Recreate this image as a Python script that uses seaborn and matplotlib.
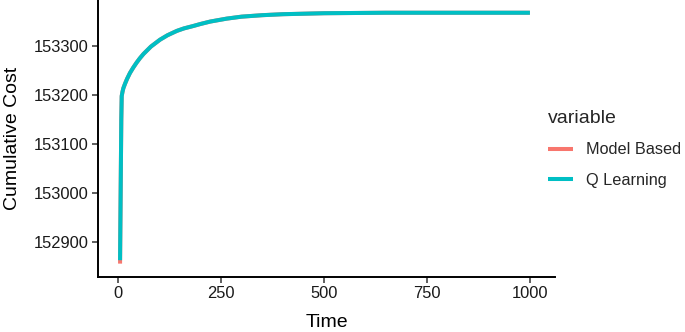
import numpy as np
import pandas as pd
import matplotlib
matplotlib.use("Agg")
import matplotlib.pyplot as plt
import seaborn as sns

# values
time = [5, 8, 9, 11, 13, 17, 22, 29, 37, 45, 53, 62, 80, 102, 120, 143, 160,
        183, 200, 224, 264, 300, 350, 400, 500, 650, 800, 1000]
model_based = [152855, 153150, 153197, 153206, 153213, 153222, 153232, 153244,
               153255, 153265, 153274, 153283, 153298, 153312, 153321, 153330,
               153335, 153340, 153344, 153349, 153355, 153359, 153362, 153364,
               153366, 153367, 153367, 153367]
q_learning = [152862, 153150, 153197, 153206, 153213, 153222, 153232, 153244,
              153255, 153265, 153274, 153283, 153298, 153312, 153321, 153330,
              153335, 153340, 153344, 153349, 153355, 153359, 153362, 153364,
              153366, 153367, 153367, 153367]

df = pd.DataFrame({
    "Time": time * 2,
    "value": model_based + q_learning,
    "variable": ["Model Based"] * len(time) + ["Q Learning"] * len(time),
})

sns.set_style("ticks")
plt.rcParams["font.family"] = ["Liberation Sans", "DejaVu Sans"]

fig = plt.figure(figsize=(6.85, 3.32), dpi=100)
ax = fig.add_axes([0.1431, 0.167, 0.667, 0.833])

sns.lineplot(data=df, x="Time", y="value", hue="variable",
             palette={"Model Based": "#F8766D", "Q Learning": "#00BFC4"},
             linewidth=2.9, ax=ax, estimator=None, solid_capstyle="butt")

ax.set_xlim(-48.5, 1060.7)
ax.set_ylim(152828.6, 153393)
ax.set_xticks([0, 250, 500, 750, 1000])
ax.set_yticks([152900, 153000, 153100, 153200, 153300])
ax.set_xlabel("Time", fontsize=14, color="black", labelpad=9)
ax.set_ylabel("Cumulative Cost", fontsize=14, color="black", labelpad=9)
ax.tick_params(axis="both", labelsize=11.9, length=4, width=1.1, color="#333333",
               labelcolor="#1a1a1a", pad=3)
for s in ["top", "right"]:
    ax.spines[s].set_visible(False)
for s in ["left", "bottom"]:
    ax.spines[s].set_linewidth(1.4)
    ax.spines[s].set_color("black")

leg = ax.legend(title="variable", loc="upper left",
                bbox_to_anchor=(548 / 685, 1 - 110 / 332),
                bbox_transform=fig.transFigure, borderaxespad=0, borderpad=0,
                frameon=False, fontsize=11.7, title_fontsize=14,
                handlelength=1.55, handletextpad=0.8, labelspacing=0.97)
leg._legend_box.align = "left"
leg._legend_box.sep = 11
for h in leg.get_lines():
    h.set_linewidth(2.9)

fig.savefig("out.png", dpi=100)
